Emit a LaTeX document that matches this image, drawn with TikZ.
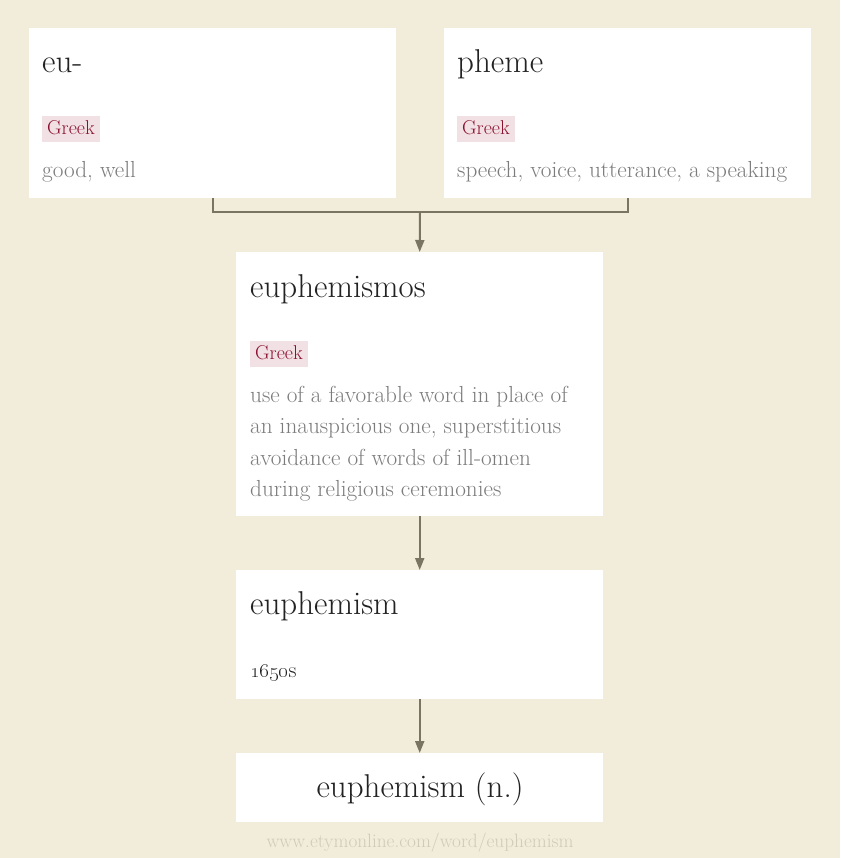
\documentclass[tikz,border=0pt]{standalone}
\usepackage{tikz}
\usetikzlibrary{arrows.meta}

\definecolor{paper}{HTML}{F2ECDA}
\definecolor{wire}{HTML}{7A7462}
\definecolor{ink}{HTML}{222222}
\definecolor{gloss}{HTML}{7C7C7C}
\definecolor{tagbg}{HTML}{F2E1E4}
\definecolor{tagink}{HTML}{8B1030}
\definecolor{faint}{HTML}{D0CAB9}

\tikzset{
  box/.style={fill=white, inner sep=0pt, minimum width=367pt, anchor=north west},
  title/.style={anchor=base west, inner sep=0pt, text=ink, font=\fontsize{33}{38}\selectfont},
  tag/.style={anchor=base west, fill=tagbg, text=tagink, inner xsep=5pt, inner ysep=3.5pt,
    text height=15pt, text depth=4pt, font=\fontsize{20}{24}\selectfont},
  gloss/.style={anchor=base west, inner sep=0pt, text=gloss,
    font=\fontsize{23.2}{31.5}\selectfont},
  link/.style={draw=wire, line width=2pt},
  arrow/.style={link, -{Triangle[width=9pt,length=12pt]}}
}

\begin{document}
\begin{tikzpicture}[x=1pt,y=1pt]
		\fill[paper] (0,0) rectangle (840,-858);
		\useasboundingbox (0,0) rectangle (840,-858);

		% word boxes
		\node[box, minimum height=170pt] (eu) at (29,-28) {};
		\node[box, minimum height=170pt] (pheme) at (444,-28) {};
		\node[box, minimum height=264pt] (euphemismos) at (236,-252) {};
		\node[box, minimum height=129pt] (euphemism) at (236,-570) {};
		\node[box, minimum height=69pt] (word) at (236,-753) {};

		% eu-
		\node[title] (eu-t) at ([shift={(13,-45)}]eu.north west) {eu-};
		\node[tag] (eu-l) at ([shift={(13,-107)}]eu.north west) {Greek};
		\node[gloss] (eu-g) at ([shift={(13,-150)}]eu.north west) {good, well};

		% pheme
		\node[title] (pheme-t) at ([shift={(13,-45)}]pheme.north west) {pheme};
		\node[tag] (pheme-l) at ([shift={(13,-107)}]pheme.north west) {Greek};
		\node[gloss] (pheme-g) at ([shift={(13,-150)}]pheme.north west) {speech, voice, utterance, a speaking};

		% euphemismos
		\node[title] (euphemismos-t) at ([shift={(14,-45)}]euphemismos.north west) {euphemismos};
		\node[tag] (euphemismos-l) at ([shift={(14,-107)}]euphemismos.north west) {Greek};
		\node[gloss] (euphemismos-g) at ([shift={(14,-150)}]euphemismos.north west)
		  {\parbox[t]{345pt}{\raggedright use of a favorable word in place of\\an inauspicious one, superstitious\\avoidance of words of ill-omen\\during religious ceremonies}};

		% euphemism
		\node[title] (euphemism-t) at ([shift={(14,-44)}]euphemism.north west) {euphemism};
		\node[gloss, text=ink, font=\fontsize{22}{26}\selectfont] (euphemism-d)
		  at ([shift={(14,-107)}]euphemism.north west) {\oldstylenums{1650}s};

		% euphemism (n.)
		\node[title, anchor=base] (word-t) at (420,-797) {euphemism (n.)};

		\node[anchor=base, inner sep=0pt, text=faint, font=\fontsize{19.3}{22}\selectfont] (url)
		  at (420,-847) {www.etymonline.com/word/euphemism};

		% connectors
		\coordinate (join) at (420,-212);
		\draw[link] (eu.south) |- (join) -| (pheme.south);
		\draw[arrow] (join) -- (euphemismos.north);
		\draw[arrow] (euphemismos) -- (euphemism);
		\draw[arrow] (euphemism) -- (word);
\end{tikzpicture}
\end{document}
